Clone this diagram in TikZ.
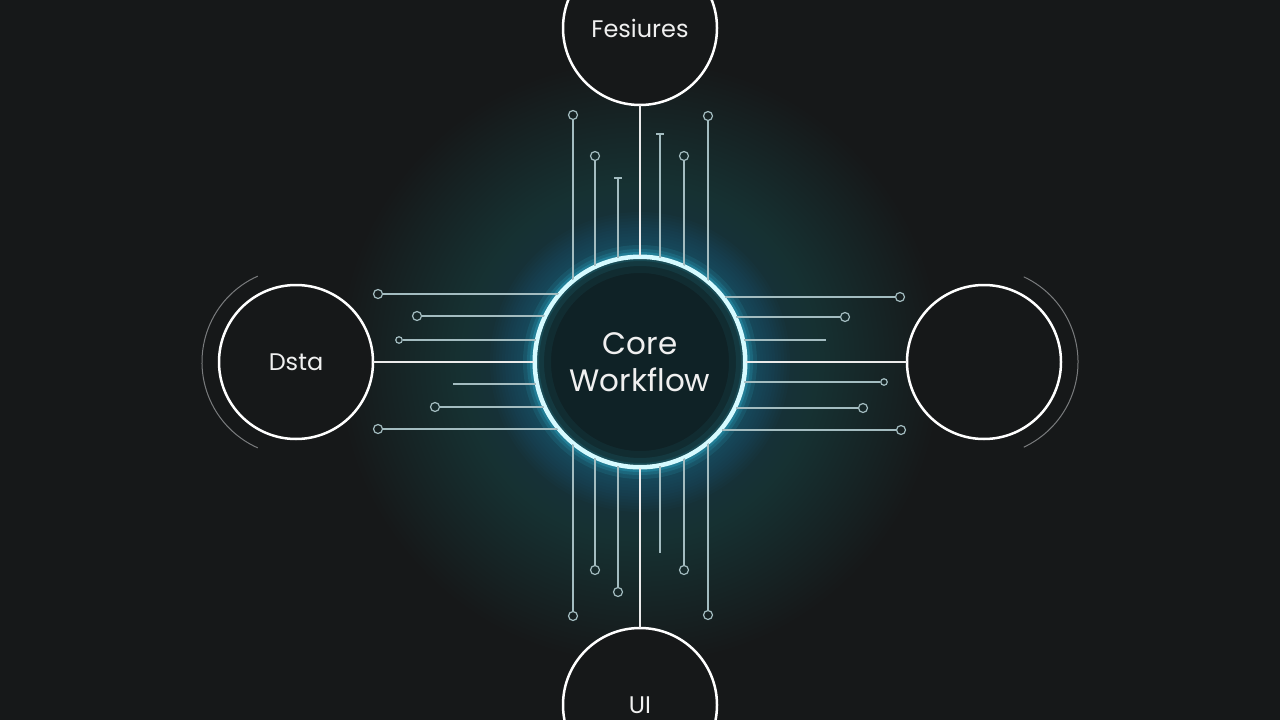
\documentclass[tikz,border=0pt]{standalone}
\usepackage{fontspec}
\setmainfont{Poppins}
\usetikzlibrary{positioning,calc}

\definecolor{bgcol}{HTML}{161819}
\definecolor{pincol}{HTML}{A3BCC0}
\definecolor{ringcol}{HTML}{D6FAFF}
\definecolor{glowcol}{HTML}{2FB0CC}
\definecolor{corefill}{HTML}{0F2226}
\definecolor{arccol}{HTML}{7A7C7E}

\begin{document}
\begin{tikzpicture}[x=1pt,y=-1pt,
    hub/.style={circle, minimum size=212pt, inner sep=0pt, outer sep=0pt,
                draw=ringcol, line width=3pt, fill=corefill, align=center,
                font=\fontsize{31}{37}\selectfont, text=white!94!black},
    sat/.style={circle, minimum size=154pt, inner sep=0pt, outer sep=0pt,
                draw=white, line width=2.5pt, fill=bgcol,
                font=\fontsize{24}{28}\selectfont, text=white!94!black},
    link/.style={draw=white!92!black, line width=2.5pt},
    pinline/.style={draw=pincol, line width=1.3pt},
    pin o/.style={circle, draw=pincol, line width=1.2pt, minimum size=9pt, inner sep=0pt},
    pin s/.style={circle, draw=pincol, line width=1.2pt, minimum size=6.5pt, inner sep=0pt},
    pin n/.style={inner sep=0pt, minimum size=0pt},
    pin t/.style={inner sep=0pt, minimum size=0pt, fill=pincol, minimum width=8pt, minimum height=1.6pt, rectangle}]

    \useasboundingbox (0,0) rectangle (1280,720);
    \clip (0,0) rectangle (1280,720);
    \fill[bgcol] (0,0) rectangle (1280,720);

    \coordinate (c0) at (640,362);
    \foreach \r in {300,295,...,110}{
        \fill [glowcol,opacity=0.008] (c0) circle (\r);
    }
    \foreach \r in {150,147,...,108}{
        \fill [glowcol,opacity=0.022] (c0) circle (\r);
    }
    \foreach \w/\o in {22/0.12,14/0.18,8/0.3}{
        \draw [glowcol,line width=\w pt,opacity=\o] (c0) circle (106);
    }

    \node [hub] (core) at (c0) {Core\\[0pt]Workflow};
    \foreach \w/\o in {16/0.07,9/0.1,4/0.15}{
        \draw [glowcol,line width=\w pt,opacity=\o] (core.center) circle ({105-\w/2});
    }
    \node [sat,above=151pt of core] (feat) {Fesiures};
    \node [sat,below=160pt of core] (ui) {UI};
    \node [sat,left=161pt of core] (data) {Dsta};
    \node [sat,right=161pt of core] (out) {};

    \draw [arccol,line width=1pt] ($(data.center)+(246:94)$) arc [start angle=246,end angle=114,radius=94];
    \draw [arccol,line width=1pt] ($(out.center)+(-65:94)$) arc [start angle=-65,end angle=65,radius=94];

    \draw [link] (feat) -- (core);
    \draw [link] (core) -- (ui);
    \draw [link] (data) -- (core);
    \draw [link] (core) -- (out);

    \foreach \y/\x/\k [count=\i] in {294/378/o,316/417/o,340/399/s,384/453/n,407/435/o,429/378/o}{
        \pgfmathsetmacro\a{180-asin((362-\y)/106)}
        \node [pin \k] (l\i) at (\x,\y) {};
        \draw [pinline] (l\i) -- (l\i -| core.\a);
    }
    \foreach \y/\x/\k [count=\i] in {297/900/o,317/845/o,340/826/n,382/884/s,408/863/o,430/901/o}{
        \pgfmathsetmacro\a{asin((362-\y)/106)}
        \node [pin \k] (r\i) at (\x,\y) {};
        \draw [pinline] (r\i) -- (r\i -| core.\a);
    }
    \foreach \x/\y/\k [count=\i] in {573/115/o,595/156/o,618/178/t,660/134/t,684/156/o,708/116/o}{
        \pgfmathsetmacro\a{acos((\x-640)/106)}
        \node [pin \k] (t\i) at (\x,\y) {};
        \draw [pinline] (t\i) -- (t\i |- core.\a);
    }
    \foreach \x/\y/\k [count=\i] in {573/616/o,595/570/o,618/592/o,660/553/n,684/570/o,708/615/o}{
        \pgfmathsetmacro\a{-acos((\x-640)/106)}
        \node [pin \k] (b\i) at (\x,\y) {};
        \draw [pinline] (b\i) -- (b\i |- core.\a);
    }

    \draw [ringcol,line width=3pt] (core.center) circle (104.5);
\end{tikzpicture}
\end{document}
